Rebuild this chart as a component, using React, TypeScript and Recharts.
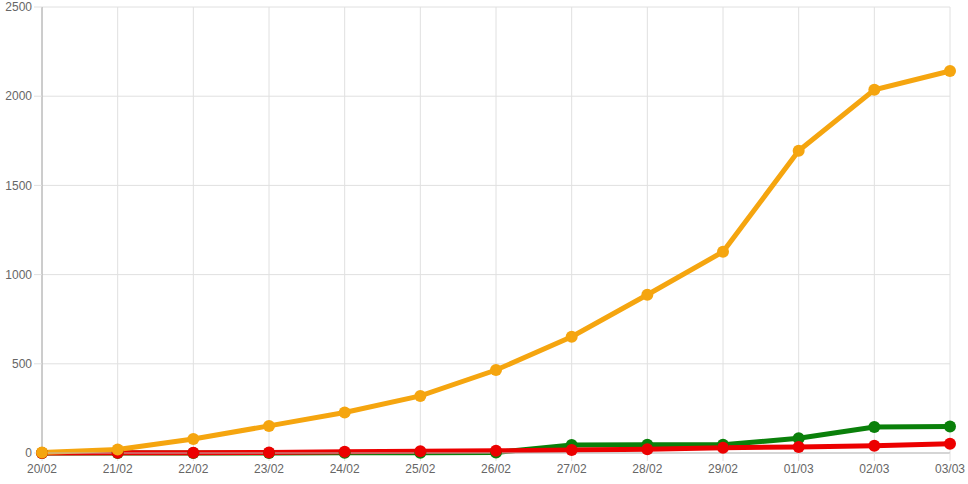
import React from "react";
import { LineChart, Line, XAxis, YAxis, CartesianGrid } from "recharts";

const categories = ["20/02", "21/02", "22/02", "23/02", "24/02", "25/02", "26/02", "27/02", "28/02", "29/02", "01/03", "02/03", "03/03"];
const confirmed = [3, 20, 79, 152, 227, 320, 465, 652, 887, 1128, 1694, 2036, 2141];
const recovered = [0, 0, 0, 0, 1, 1, 3, 45, 46, 46, 83, 146, 148];
const deaths = [0, 1, 2, 3, 7, 10, 12, 17, 21, 29, 34, 41, 52];
const yTicks = [0, 500, 1000, 1500, 2000, 2500];

const data = categories.map((c, i) => ({
  date: c,
  confirmed: confirmed[i],
  recovered: recovered[i],
  deaths: deaths[i],
}));

const tickStyle = { fill: "#666", fontSize: 12, fontFamily: "'Liberation Sans', Arial, sans-serif" };

export default function App() {
  return (
    <div style={{ position: "absolute", left: 0, top: 0, width: 968, height: 484, background: "#fff" }}>
      <LineChart width={968} height={484} data={data} margin={{ top: 7, right: 18, left: 0, bottom: 0 }}>
        <CartesianGrid stroke="#e0e0e0" strokeWidth={1} />
        <XAxis
          dataKey="date"
          interval={0}
          tick={tickStyle}
          tickSize={8}
          tickMargin={3}
          axisLine={{ stroke: "#bbb" }}
          tickLine={{ stroke: "#e0e0e0" }}
          height={31}
          padding={{ left: 0, right: 0 }}
        />
        <YAxis
          domain={[0, 2500]}
          ticks={yTicks}
          interval={0}
          tick={tickStyle}
          tickSize={8}
          tickMargin={2}
          width={42}
          axisLine={{ stroke: "#aaa" }}
          tickLine={{ stroke: "#e0e0e0" }}
        />
        <Line type="linear" dataKey="recovered" stroke="#0a800a" strokeWidth={5} dot={{ r: 6, fill: "#0a800a", stroke: "#0a800a", strokeWidth: 0 }} isAnimationActive={false} />
        <Line type="linear" dataKey="deaths" stroke="#ec0000" strokeWidth={5} dot={{ r: 6, fill: "#ec0000", stroke: "#ec0000", strokeWidth: 0 }} isAnimationActive={false} />
        <Line type="linear" dataKey="confirmed" stroke="#f5a50f" strokeWidth={5} dot={{ r: 6, fill: "#f5a50f", stroke: "#f5a50f", strokeWidth: 0 }} isAnimationActive={false} />
      </LineChart>
    </div>
  );
}
